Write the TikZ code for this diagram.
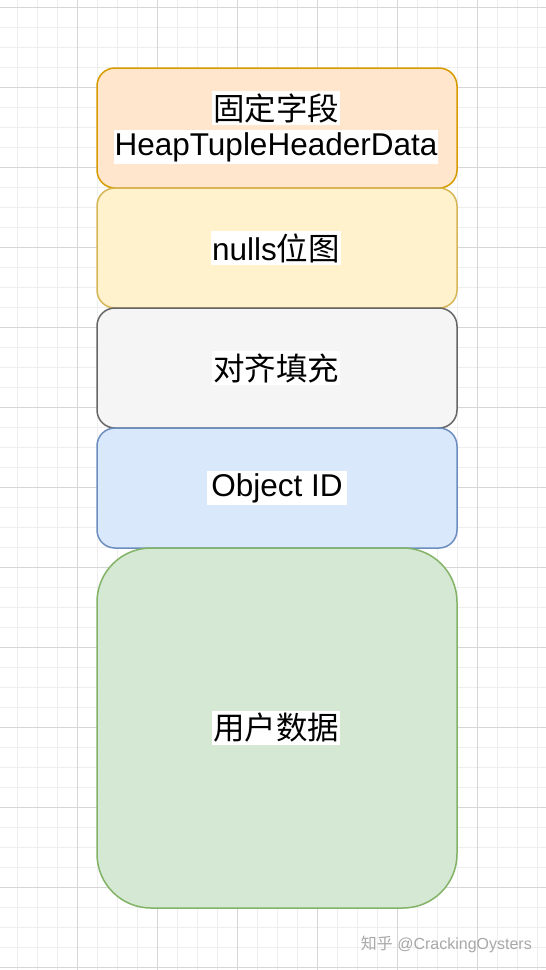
\documentclass[tikz,border=0pt]{standalone}
\usepackage{fontspec}
\setmainfont{Liberation Sans}
\newfontfamily\cjk{Noto Sans CJK SC}
\definecolor{gridminor}{HTML}{EEEEEE}
\definecolor{gridmajor}{HTML}{D6D6D6}
\definecolor{orgfill}{HTML}{FFE6CC}\definecolor{orgline}{HTML}{D79B00}
\definecolor{yelfill}{HTML}{FFF2CC}\definecolor{yelline}{HTML}{D6B656}
\definecolor{gryfill}{HTML}{F5F5F5}\definecolor{gryline}{HTML}{666666}
\definecolor{blufill}{HTML}{DAE8FC}\definecolor{bluline}{HTML}{6C8EBF}
\definecolor{grnfill}{HTML}{D5E8D4}\definecolor{grnline}{HTML}{82B366}
\definecolor{wmark}{HTML}{A8A8A8}
\begin{document}
\begin{tikzpicture}[x=1pt,y=-1pt,
  cell/.style={draw, line width=1.5pt, rectangle, rounded corners=18pt,
    minimum width=360pt, minimum height=120pt, inner sep=0pt},
  lbl/.style={fill=white, inner xsep=1pt, inner ysep=2.5pt,
    font=\fontsize{31.5}{38}\selectfont, text=black},
  wm/.style={font=\fontsize{16}{19}\selectfont, text=wmark, inner sep=0pt}]
\fill[white] (0,0) rectangle (546,970);
\useasboundingbox (0,0) rectangle (546,970);
% grid
\foreach \x in {17,37,...,546} \draw[gridminor, line width=0.8pt] (\x,0) -- (\x,970);
\foreach \y in {7,27,...,970} \draw[gridminor, line width=0.8pt] (0,\y) -- (546,\y);
\foreach \x in {77,157,...,546} \draw[gridmajor, line width=0.8pt] (\x,0) -- (\x,970);
\foreach \y in {7,87,...,970} \draw[gridmajor, line width=0.8pt] (0,\y) -- (546,\y);
% boxes
\node[cell, fill=orgfill, draw=orgline] (b1) at (277,128) {};
\node[cell, fill=yelfill, draw=yelline] (b2) at (277,248) {};
\node[cell, fill=gryfill, draw=gryline] (b3) at (277,368) {};
\node[cell, fill=blufill, draw=bluline] (b4) at (277,488) {};
\node[cell, fill=grnfill, draw=grnline, minimum height=360pt, rounded corners=54pt] (b5) at (277,728) {};
% labels
\node[lbl] (t1a) at (276,108) {\cjk 固定字段};
\node[lbl] (t1b) at (276,147) {HeapTupleHeaderData};
\node[lbl] (t2) at (276,248) {nulls{\cjk 位图}};
\node[lbl] (t3) at (276,368) {\cjk 对齐填充};
\node[lbl, inner xsep=4pt] (t4) at (277,488) {Object ID};
\node[lbl] (t5) at (276,728) {\cjk 用户数据};
% watermark
\node[wm, anchor=east] (w) at (532,944) {{\cjk 知乎} @CrackingOysters};
\end{tikzpicture}
\end{document}
